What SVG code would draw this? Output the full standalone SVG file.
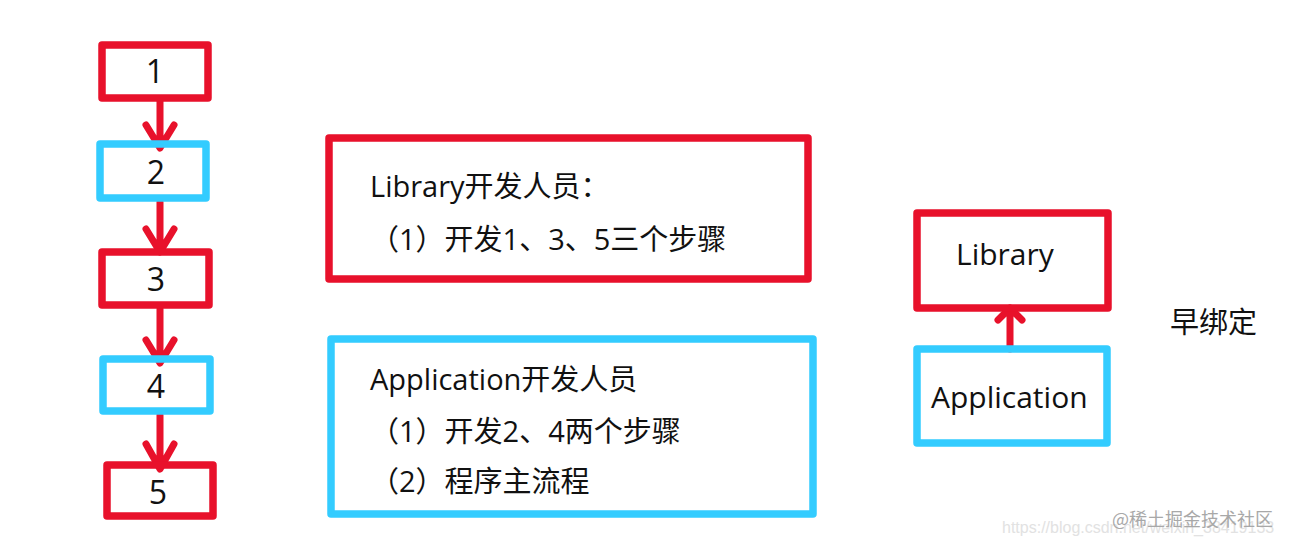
<svg xmlns="http://www.w3.org/2000/svg" width="1289" height="548" viewBox="0 0 1289 548">
<style>
.r{fill:none;stroke:#E8112B;stroke-width:7.5;stroke-linejoin:round}
.b{fill:none;stroke:#33CCFF;stroke-width:7.5;stroke-linejoin:round}
.c{fill:none;stroke:#E8112B;stroke-width:7;stroke-linecap:round;stroke-linejoin:round}
.t{font-family:"Open Sans","Noto Sans CJK SC",sans-serif;fill:#111}
.n{font-size:32px;text-anchor:middle}
.m{font-size:29px}
.g{font-size:30px}
</style>
<rect width="1289" height="548" fill="#fff"/>
<g id="connectors">
<path class="c" d="M160 101V146M146 125L160 148L174 125"/>
<path class="c" d="M160 202V250M146 229L160 252L174 229"/>
<path class="c" d="M160 309V360M146 340L160 363L174 340"/>
<path class="c" d="M160 415V467M146 444L160 469L174 444"/>
<path class="c" d="M1010 349V309M998 320L1010 308L1022 320"/>
</g>
<g id="n1"><rect class="r" x="102" y="45" width="106" height="53"/><text class="t n" x="155" y="83">1</text></g>
<g id="n2"><rect class="b" x="100" y="144" width="106" height="54"/><text class="t n" x="156" y="184">2</text></g>
<g id="n3"><rect class="r" x="102" y="252" width="107" height="53"/><text class="t n" x="156" y="291">3</text></g>
<g id="n4"><rect class="b" x="103" y="359" width="107" height="52"/><text class="t n" x="156" y="398">4</text></g>
<g id="n5"><rect class="r" x="107" y="465" width="106" height="51"/><text class="t n" x="158" y="504">5</text></g>
<g id="lib-dev"><rect class="r" x="329" y="138" width="479" height="141"/>
<text class="t m" x="370" y="197">Library开发人员：</text>
<text class="t m" x="370" y="250">（1）开发1、3、5三个步骤</text></g>
<g id="app-dev"><rect class="b" x="331" y="339" width="482" height="175"/>
<text class="t m" x="370" y="390">Application开发人员</text>
<text class="t m" x="370" y="442">（1）开发2、4两个步骤</text>
<text class="t m" x="370" y="492">（2）程序主流程</text></g>
<g id="library"><rect class="r" x="917" y="213" width="191" height="95"/><text class="t g" x="956" y="265">Library</text></g>
<g id="application"><rect class="b" x="917" y="349" width="190" height="94"/><text class="t g" x="931" y="408">Application</text></g>
<g id="label"><text class="t m" x="1170" y="333">早绑定</text></g>
<g id="watermark">
<text x="1002" y="533" style="font-family:'Liberation Sans',sans-serif;font-size:16px;fill:#e2e2e2">https://blog.csdn.net/weixin_38419133</text>
<text x="1112" y="526" style="font-family:'Noto Sans CJK SC',sans-serif;font-size:18px;fill:#a8a8a8">@稀土掘金技术社区</text>
</g>
</svg>
